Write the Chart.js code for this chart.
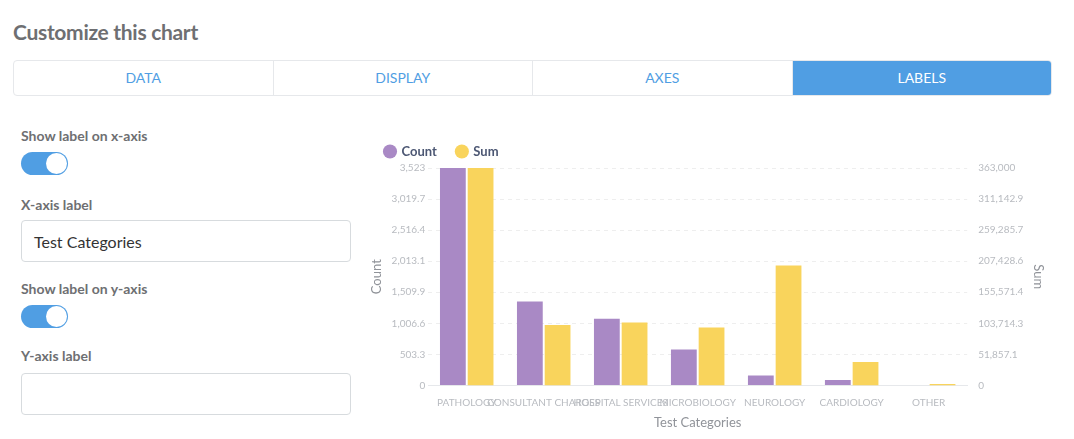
<!DOCTYPE html>
<html><head><meta charset="utf-8">
<script src="https://cdn.jsdelivr.net/npm/chart.js@4"></script>
<style>
body{margin:0;width:1074px;height:439px;background:#fff;font-family:Lato,sans-serif;position:relative;overflow:hidden}
.abs{position:absolute}
h1{position:absolute;left:13px;top:19px;margin:0;font-size:21px;font-weight:700;color:#6e6f72;letter-spacing:-0.3px}
.tabs{position:absolute;left:13px;top:60px;width:1037px;height:34px;border:1px solid #e6e8eb;border-radius:4px;display:flex;overflow:hidden}
.tab{flex:1;text-align:center;line-height:34px;font-size:14px;color:#509EE3;border-right:1px solid #e6e8eb}
.tab.act{background:#509EE3;color:#fff;border-right:none}
.lbl{position:absolute;left:21px;font-size:14px;font-weight:700;color:#6e6f72}
.tog{position:absolute;left:21px;width:47px;height:23px;border-radius:12px;background:#509EE3}
.tog::after{content:"";position:absolute;right:1px;top:1px;width:21px;height:21px;border-radius:50%;background:#fff}
.inp{position:absolute;left:21px;width:327px;height:42px;border:1px solid #d7dbde;border-radius:4px;font-size:16px;color:#333;line-height:42px;padding-left:12px;box-sizing:border-box}
#wrap{position:absolute;left:360px;top:125px;width:700px;height:314px}
</style></head><body>
<h1>Customize this chart</h1>
<div class="tabs"><div class="tab">DATA</div><div class="tab">DISPLAY</div><div class="tab">AXES</div><div class="tab act">LABELS</div></div>
<div class="lbl" style="top:127px">Show label on x-axis</div>
<div class="tog" style="top:152px"></div>
<div class="lbl" style="top:196px">X-axis label</div>
<div class="inp" style="top:220px;width:330px">Test Categories</div>
<div class="lbl" style="top:280px">Show label on y-axis</div>
<div class="tog" style="top:305px"></div>
<div class="lbl" style="top:347px">Y-axis label</div>
<div class="inp" style="top:373px;width:330px"></div>
<div id="wrap"><canvas id="c"></canvas></div>
<script>
const categories=["PATHOLOGY","CONSULTANT CHARGES","HOSPITAL SERVICES","MICROBIOLOGY","NEUROLOGY","CARDIOLOGY","OTHER"];
const countValues=[3523,1360,1080,580,160,87,0];
const sumValues=[363000,101000,105000,96500,200000,39000,2300];
const grey='#b8bbc0';
new Chart(document.getElementById('c'),{
type:'bar',
data:{labels:categories,datasets:[
{label:'Count',data:countValues,backgroundColor:'#A989C5',yAxisID:'y'},
{label:'Sum',data:sumValues,backgroundColor:'#F9D45C',yAxisID:'y1'}]},
options:{responsive:true,maintainAspectRatio:false,animation:false,
categoryPercentage:0.72,barPercentage:0.93,
layout:{padding:{left:5,right:10,top:0,bottom:4}},
plugins:{legend:{position:'top',align:'start',labels:{usePointStyle:true,pointStyle:'circle',boxWidth:10,boxHeight:10,padding:20,color:'#4c5773',font:{family:'Lato',size:13,weight:'bold'}}},tooltip:{enabled:false}},
scales:{
x:{grid:{display:false},border:{color:'#e6e8eb'},ticks:{autoSkip:false,maxRotation:0,color:grey,font:{family:'Lato',size:10}},
 title:{display:true,text:'Test Categories',color:'#909399',font:{family:'Lato',size:13},padding:{top:4}}},
y:{min:0,max:3523,position:'left',ticks:{stepSize:500,color:grey,font:{family:'Lato',size:10}},
 grid:{color:'#eeeeee',drawTicks:false},border:{display:false,dash:[4,4]},
 title:{display:true,text:'Count',color:'#909399',font:{family:'Lato',size:13}}},
y1:{min:0,max:363000,position:'right',ticks:{stepSize:50000,color:grey,font:{family:'Lato',size:10}},
 grid:{display:false},border:{display:false},
 title:{display:true,text:'Sum',color:'#909399',font:{family:'Lato',size:13}}}
}}});
</script>
</body></html>
